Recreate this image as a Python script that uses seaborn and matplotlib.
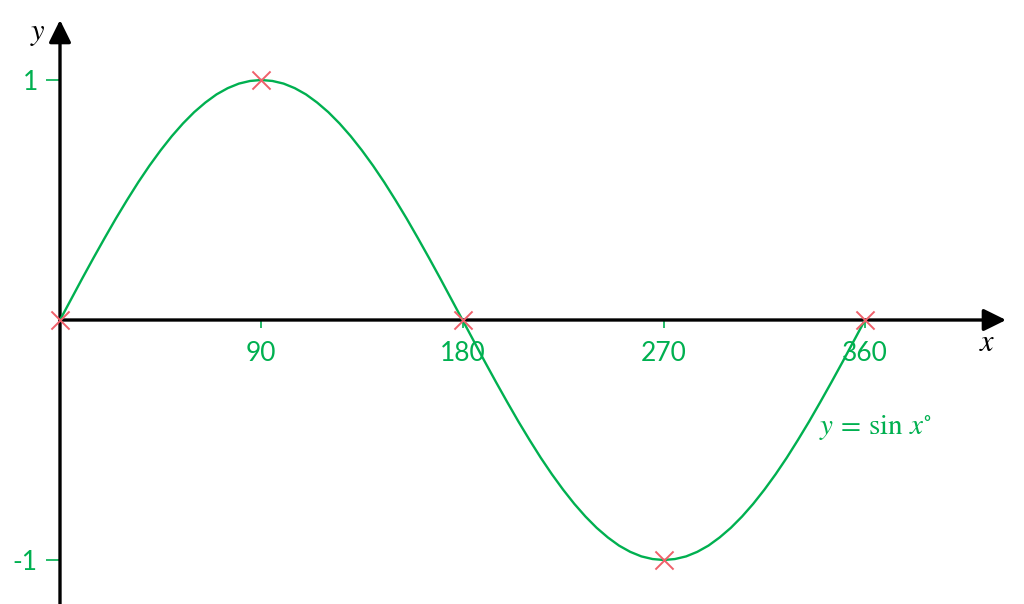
import matplotlib
matplotlib.use("Agg")
import matplotlib.pyplot as plt
import seaborn as sns
import pandas as pd

# ---- data ----
angles = [0, 5, 10, 15, 20, 25, 30, 35, 40, 45, 50, 55, 60, 65, 70, 75, 80, 85, 90,
          95, 100, 105, 110, 115, 120, 125, 130, 135, 140, 145, 150, 155, 160, 165, 170, 175, 180,
          185, 190, 195, 200, 205, 210, 215, 220, 225, 230, 235, 240, 245, 250, 255, 260, 265, 270,
          275, 280, 285, 290, 295, 300, 305, 310, 315, 320, 325, 330, 335, 340, 345, 350, 355, 360]
sin_vals = [0.000, 0.087, 0.174, 0.259, 0.342, 0.423, 0.500, 0.574, 0.643, 0.707, 0.766, 0.819, 0.866, 0.906, 0.940, 0.966, 0.985, 0.996, 1.000,
            0.996, 0.985, 0.966, 0.940, 0.906, 0.866, 0.819, 0.766, 0.707, 0.643, 0.574, 0.500, 0.423, 0.342, 0.259, 0.174, 0.087, 0.000,
            -0.087, -0.174, -0.259, -0.342, -0.423, -0.500, -0.574, -0.643, -0.707, -0.766, -0.819, -0.866, -0.906, -0.940, -0.966, -0.985, -0.996, -1.000,
            -0.996, -0.985, -0.966, -0.940, -0.906, -0.866, -0.819, -0.766, -0.707, -0.643, -0.574, -0.500, -0.423, -0.342, -0.259, -0.174, -0.087, 0.000]
key_x = [0, 90, 180, 270, 360]
key_y = [0, 1, 0, -1, 0]
x_ticks = [90, 180, 270, 360]
x_tick_labels = ["90", "180", "270", "360"]
y_ticks = [1, -1]
y_tick_labels = ["1", "-1"]
curve_label = r"$y\, =\, \sin\, x^{\circ}$"

GREEN = "#00b050"
RED = "#f0606a"

sns.set_theme(style="white")
plt.rcParams["font.family"] = ["Lato", "DejaVu Sans"]
plt.rcParams["mathtext.fontset"] = "stix"

fig = plt.figure(figsize=(10.24, 6.04), dpi=100)
ax = fig.add_axes([0, 0, 1, 1])

df = pd.DataFrame({"x": angles, "y": sin_vals})
sns.lineplot(data=df, x="x", y="y", sort=False, estimator=None, color=GREEN,
             linewidth=1.7, ax=ax, zorder=3)
sns.scatterplot(x=key_x, y=key_y, marker="x", color=RED, s=170, linewidth=1.4,
                ax=ax, zorder=4)

x_per_px = 360 / 805.0
y_per_px = 1 / 240.0
ax.set_xlim(-60 * x_per_px, (1024 - 60) * x_per_px)
ax.set_ylim(-(604 - 320) * y_per_px, 320 * y_per_px)

# axes as arrows
for s in ax.spines.values():
    s.set_visible(False)
ax.spines["left"].set_position(("data", 0))
ax.spines["bottom"].set_position(("data", 0))
arrow = dict(arrowstyle="-|>,head_length=0.85,head_width=0.42", color="black",
             lw=2.4, shrinkA=0, shrinkB=0, mutation_scale=16)
ax.annotate("", xy=(0, (320 - 20) * y_per_px), xytext=(0, -(604 - 320) * y_per_px),
            arrowprops=arrow, zorder=2)
ax.annotate("", xy=((1006 - 60) * x_per_px, 0), xytext=(0, 0),
            arrowprops=arrow, zorder=2)

ax.set_xticks(x_ticks)
ax.set_xticklabels(x_tick_labels)
ax.set_yticks(y_ticks)
ax.set_yticklabels(y_tick_labels)
ax.tick_params(axis="x", colors=GREEN, direction="out", length=6, width=1.2,
               pad=9, labelsize=19, bottom=True)
ax.tick_params(axis="y", colors=GREEN, direction="out", length=10, width=1.2,
               pad=6, labelsize=19, left=True)
ax.set_xlabel("")
ax.set_ylabel("")

ax.text(-10, (320 - 34) * y_per_px, r"$y$", fontsize=22, ha="center", va="center",
        color="black")
ax.text((987 - 60) * x_per_px, -(342 - 320) * y_per_px, r"$x$", fontsize=22,
        ha="center", va="center", color="black")
ax.text((876 - 60) * x_per_px, -(428 - 320) * y_per_px, curve_label, fontsize=21,
        ha="center", va="center", color=GREEN)

fig.savefig("out.png", dpi=100)
